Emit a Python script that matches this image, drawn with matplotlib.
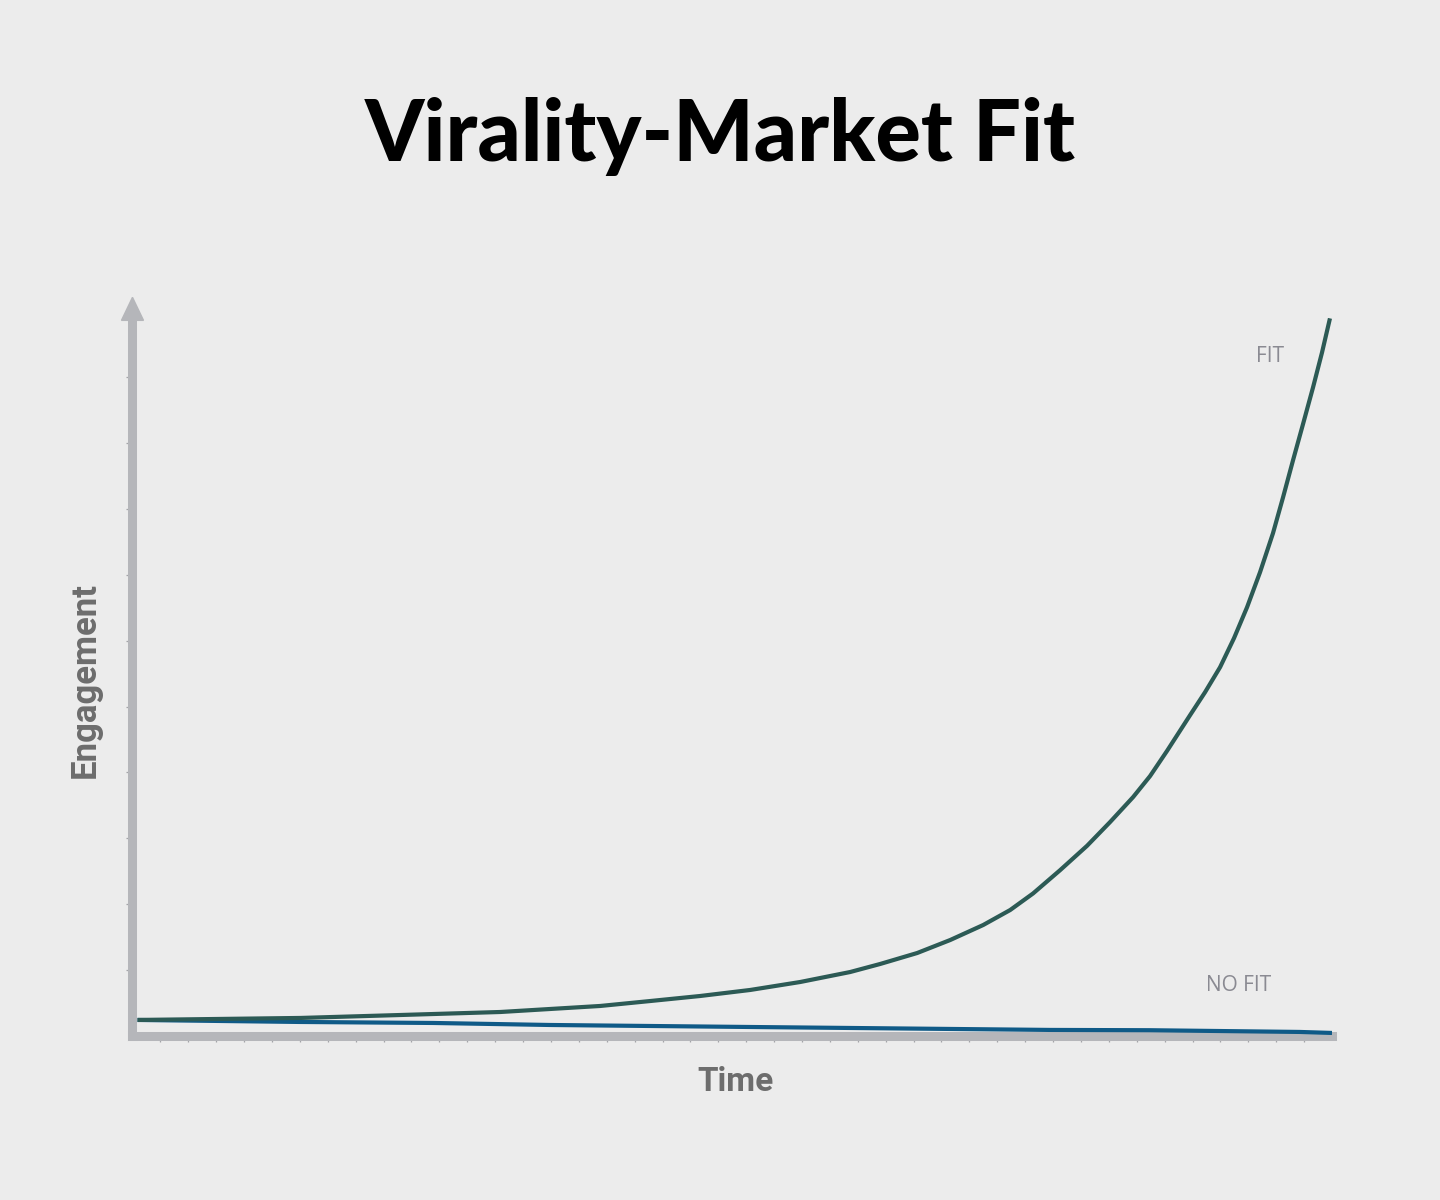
"""
Virality-market fit: engagement over time, fit vs no fit
"""
import matplotlib
matplotlib.use("Agg")
from matplotlib import pyplot as plt
from matplotlib.patches import Polygon

# data (time 0-100, engagement 0-100)
fit_time = [0.42, 14.0, 22.33, 30.67, 34.83, 39.0, 43.17, 47.33, 51.5, 55.67,
            59.83, 62.33, 65.42, 68.17, 70.92, 73.17, 75.08, 77.33, 79.58, 81.5,
            83.42, 84.83, 86.25, 88.17, 89.42, 90.67, 91.83, 92.92, 94.0, 95.08,
            95.92, 96.75, 97.58, 98.42, 99.17, 99.83]
fit_engagement = [2.23, 2.51, 2.92, 3.34, 3.76, 4.18, 4.87, 5.57, 6.41, 7.52,
                  8.91, 10.03, 11.56, 13.37, 15.46, 17.55, 19.86, 23.10, 26.50, 29.81,
                  33.29, 36.21, 39.73, 44.71, 47.91, 51.39, 55.43, 59.75, 64.62, 70.06,
                  75.07, 80.22, 85.24, 90.39, 95.26, 100.0]

nofit_time = [0.42, 14.0, 25.1, 34.8, 51.5, 76.5, 84.8, 97.3, 100.0]
nofit_engagement = [2.23, 1.95, 1.81, 1.53, 1.25, 0.84, 0.80, 0.56, 0.42]

y_ticks = [9.18 * k for k in range(1, 11)]
x_ticks = [100 / 43 * k for k in range(1, 43)]

BG = "#ececec"
AXIS = "#b5b6ba"
FIT_COLOR = "#2c5a55"
NOFIT_COLOR = "#0f5a87"
LABEL = "#8a8a92"
AXIS_LABEL = "#6d6d6d"

fig = plt.figure(figsize=(14.4, 12), dpi=100, facecolor=BG)
ax_w, ax_h = 0.833, 0.598
ax = fig.add_axes([0.092, 0.1367, ax_w, ax_h])
ax.set_facecolor(BG)

ax.plot(nofit_time, nofit_engagement, color=NOFIT_COLOR, lw=3,
        solid_capstyle="butt", solid_joinstyle="round", zorder=3)
ax.plot(fit_time, fit_engagement, color=FIT_COLOR, lw=3,
        solid_capstyle="butt", solid_joinstyle="round", zorder=3)

ax.set_xlim(0, 100)
ax.set_ylim(0, 100)

for side in ("top", "right"):
    ax.spines[side].set_visible(False)
for side in ("left", "bottom"):
    ax.spines[side].set_color(AXIS)
    ax.spines[side].set_linewidth(6.5)
ax.spines["left"].set_capstyle("projecting")

# arrow head on top of the y axis (sizes in pixels)
px_w = 1.0 / (ax_w * 1440)
px_h = 1.0 / (ax_h * 1200)
ax.add_patch(Polygon([(-11 * px_w, 1 - 2 * px_h), (11 * px_w, 1 - 2 * px_h),
                      (0, 1 + 21 * px_h)],
                     closed=True, color=AXIS, clip_on=False,
                     transform=ax.transAxes, zorder=2))

ax.set_yticks(y_ticks)
ax.set_xticks(x_ticks)
ax.set_yticklabels([])
ax.set_xticklabels([])
ax.tick_params(axis="both", length=4.3, width=0.9, color="#a3a4a8",
               direction="out", pad=0)

ax.text(94.8, 94.7, "FIT", color=LABEL, fontsize=15, family="Open Sans",
        ha="center", va="center")
ax.text(92.2, 7.1, "NO FIT", color=LABEL, fontsize=15, family="Open Sans",
        ha="center", va="center")

fig.text(85 / 1440, 1 - 680 / 1200, "Engagement", rotation=90, color=AXIS_LABEL,
         fontsize=25, fontweight="bold", family=["Roboto", "DejaVu Sans"],
         ha="center", va="center")
fig.text(736 / 1440, 1 - 1082 / 1200, "Time", color=AXIS_LABEL,
         fontsize=24, fontweight="bold", family=["Roboto", "DejaVu Sans"],
         ha="center", va="center")

fig.text(0.5, 1 - 136 / 1200, "Virality-Market Fit", color="black",
         fontsize=61, fontweight="black", family=["Lato", "DejaVu Sans"],
         ha="center", va="center")

fig.savefig("out.png", dpi=100, facecolor=BG)
